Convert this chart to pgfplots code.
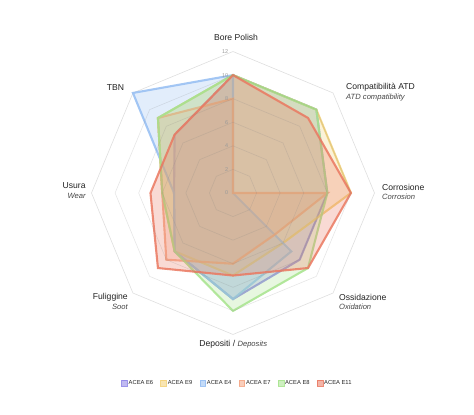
\documentclass[border=0pt]{standalone}
\usepackage{fontspec}
\setmainfont{Liberation Sans}
\usepackage{pgfplots}
\pgfplotsset{compat=1.18}
\definecolor{cE6}{HTML}{8C82E6}
\definecolor{cE9}{HTML}{F2D074}
\definecolor{cE4}{HTML}{94BDF2}
\definecolor{cE7}{HTML}{F4A584}
\definecolor{cE8}{HTML}{A6E38C}
\definecolor{cE11}{HTML}{EA7860}
\definecolor{gridc}{HTML}{DEDEDE}
\definecolor{lab}{HTML}{222222}
\definecolor{sub}{HTML}{444444}
\definecolor{tickc}{HTML}{9A9A9A}
\pgfplotsset{
  series/.style={line width=2.1pt, draw=#1, draw opacity=0.85, fill=#1, fill opacity=0.27, line join=miter,
    legend image code/.code={\fill[#1, fill opacity=0.55, draw=#1, line width=0.4pt] (0pt,-2.8pt) rectangle (5.8pt,3pt);}},
  ring/.style={draw=gridc, line width=0.6pt, forget plot},
  ringtop/.style={draw=gray, draw opacity=0.2, line width=0.6pt, forget plot}
}
\tikzset{tlab/.style={anchor=east, inner sep=0.5pt, font=\fontsize{5.5}{6}\selectfont, text=tickc}}
\begin{document}
\begin{tikzpicture}
\begin{axis}[
  scale only axis, width=474pt, height=415pt,
  xmin=-19.76, xmax=20.44, ymin=-18.83, ymax=16.37,
  hide axis, clip=false, data cs=polar, no markers,
  legend columns=6,
  legend style={at={(rel axis cs:0.5,0.077)}, anchor=center, draw=none, fill=none,
    font=\fontsize{5.8}{6}\selectfont\color{lab}, /tikz/every even column/.append style={column sep=6pt},
    inner sep=0pt, nodes={inner sep=1.2pt}},
]
\path (rel axis cs:0,0) rectangle (rel axis cs:1,1);
% outer octagon
\addplot[ring] coordinates {(90,12) (45,12) (0,12) (-45,12) (-90,12) (-135,12) (180,12) (135,12)} -- cycle;
% series
\addplot[series=cE6] coordinates {(90,10) (45,10) (0,8) (-45,8) (-90,9) (-135,7) (180,5) (135,7)} -- cycle;
\addlegendentry{ACEA E6}
\addplot[series=cE9] coordinates {(90,10) (45,10) (0,10) (-45,6) (-90,7) (-135,7) (180,6) (135,9)} -- cycle;
\addlegendentry{ACEA E9}
\addplot[series=cE4] coordinates {(90,10) (45,0) (0,0) (-45,7) (-90,9) (-135,7) (180,5) (135,12)} -- cycle;
\addlegendentry{ACEA E4}
\addplot[series=cE7] coordinates {(90,8) (45,0) (0,8) (-45,5) (-90,6) (-135,8) (180,6) (135,9)} -- cycle;
\addlegendentry{ACEA E7}
\addplot[series=cE8] coordinates {(90,10) (45,10) (0,8) (-45,9) (-90,10) (-135,7) (180,6) (135,9)} -- cycle;
\addlegendentry{ACEA E8}
\addplot[series=cE11] coordinates {(90,10) (45,9) (0,10) (-45,9) (-90,7) (-135,9) (180,7) (135,7)} -- cycle;
\addlegendentry{ACEA E11}
% inner grid rings, drawn over the fills
\addplot[ringtop] coordinates {(90,2) (45,2) (0,2) (-45,2) (-90,2) (-135,2) (180,2) (135,2)} -- cycle;
\addplot[ringtop] coordinates {(90,4) (45,4) (0,4) (-45,4) (-90,4) (-135,4) (180,4) (135,4)} -- cycle;
\addplot[ringtop] coordinates {(90,6) (45,6) (0,6) (-45,6) (-90,6) (-135,6) (180,6) (135,6)} -- cycle;
\addplot[ringtop] coordinates {(90,8) (45,8) (0,8) (-45,8) (-90,8) (-135,8) (180,8) (135,8)} -- cycle;
\addplot[ringtop] coordinates {(90,10) (45,10) (0,10) (-45,10) (-90,10) (-135,10) (180,10) (135,10)} -- cycle;
% radial tick labels
\node[tlab] at (rel axis cs:0.483,0.535) {0};
\node[tlab] at (rel axis cs:0.483,0.592) {2};
\node[tlab] at (rel axis cs:0.483,0.649) {4};
\node[tlab] at (rel axis cs:0.483,0.705) {6};
\node[tlab] at (rel axis cs:0.483,0.762) {8};
\node[tlab] at (rel axis cs:0.483,0.819) {10};
\node[tlab] at (rel axis cs:0.483,0.876) {12};
% axis labels
\node[font=\fontsize{8.6}{10}\selectfont, text=lab] at (rel axis cs:0.498,0.911) {Bore Polish};
\node[anchor=west, inner sep=0pt, font=\fontsize{8.6}{10}\selectfont, text=lab] at (rel axis cs:0.730,0.790) {Compatibilità ATD};
\node[anchor=west, inner sep=0pt, font=\fontsize{7.6}{9}\selectfont\itshape, text=sub] at (rel axis cs:0.730,0.764) {ATD compatibility};
\node[anchor=west, inner sep=0pt, font=\fontsize{8.6}{10}\selectfont, text=lab] at (rel axis cs:0.806,0.549) {Corrosione};
\node[anchor=west, inner sep=0pt, font=\fontsize{7.6}{9}\selectfont\itshape, text=sub] at (rel axis cs:0.806,0.525) {Corrosion};
\node[anchor=west, inner sep=0pt, font=\fontsize{8.6}{10}\selectfont, text=lab] at (rel axis cs:0.715,0.284) {Ossidazione};
\node[anchor=west, inner sep=0pt, font=\fontsize{7.6}{9}\selectfont\itshape, text=sub] at (rel axis cs:0.715,0.260) {Oxidation};
\node[inner sep=0pt, font=\fontsize{8.6}{10}\selectfont, text=lab] at (rel axis cs:0.492,0.171) {Depositi / {\fontsize{7.6}{9}\selectfont\itshape\color{sub}Deposits}};
\node[anchor=east, inner sep=0pt, font=\fontsize{8.6}{10}\selectfont, text=lab] at (rel axis cs:0.270,0.284) {Fuliggine};
\node[anchor=east, inner sep=0pt, font=\fontsize{7.6}{9}\selectfont\itshape, text=sub] at (rel axis cs:0.270,0.260) {Soot};
\node[anchor=east, inner sep=0pt, font=\fontsize{8.6}{10}\selectfont, text=lab] at (rel axis cs:0.181,0.552) {Usura};
\node[anchor=east, inner sep=0pt, font=\fontsize{7.6}{9}\selectfont\itshape, text=sub] at (rel axis cs:0.181,0.528) {Wear};
\node[anchor=east, inner sep=0pt, font=\fontsize{8.6}{10}\selectfont, text=lab] at (rel axis cs:0.262,0.788) {TBN};
\end{axis}
\end{tikzpicture}
\end{document}
